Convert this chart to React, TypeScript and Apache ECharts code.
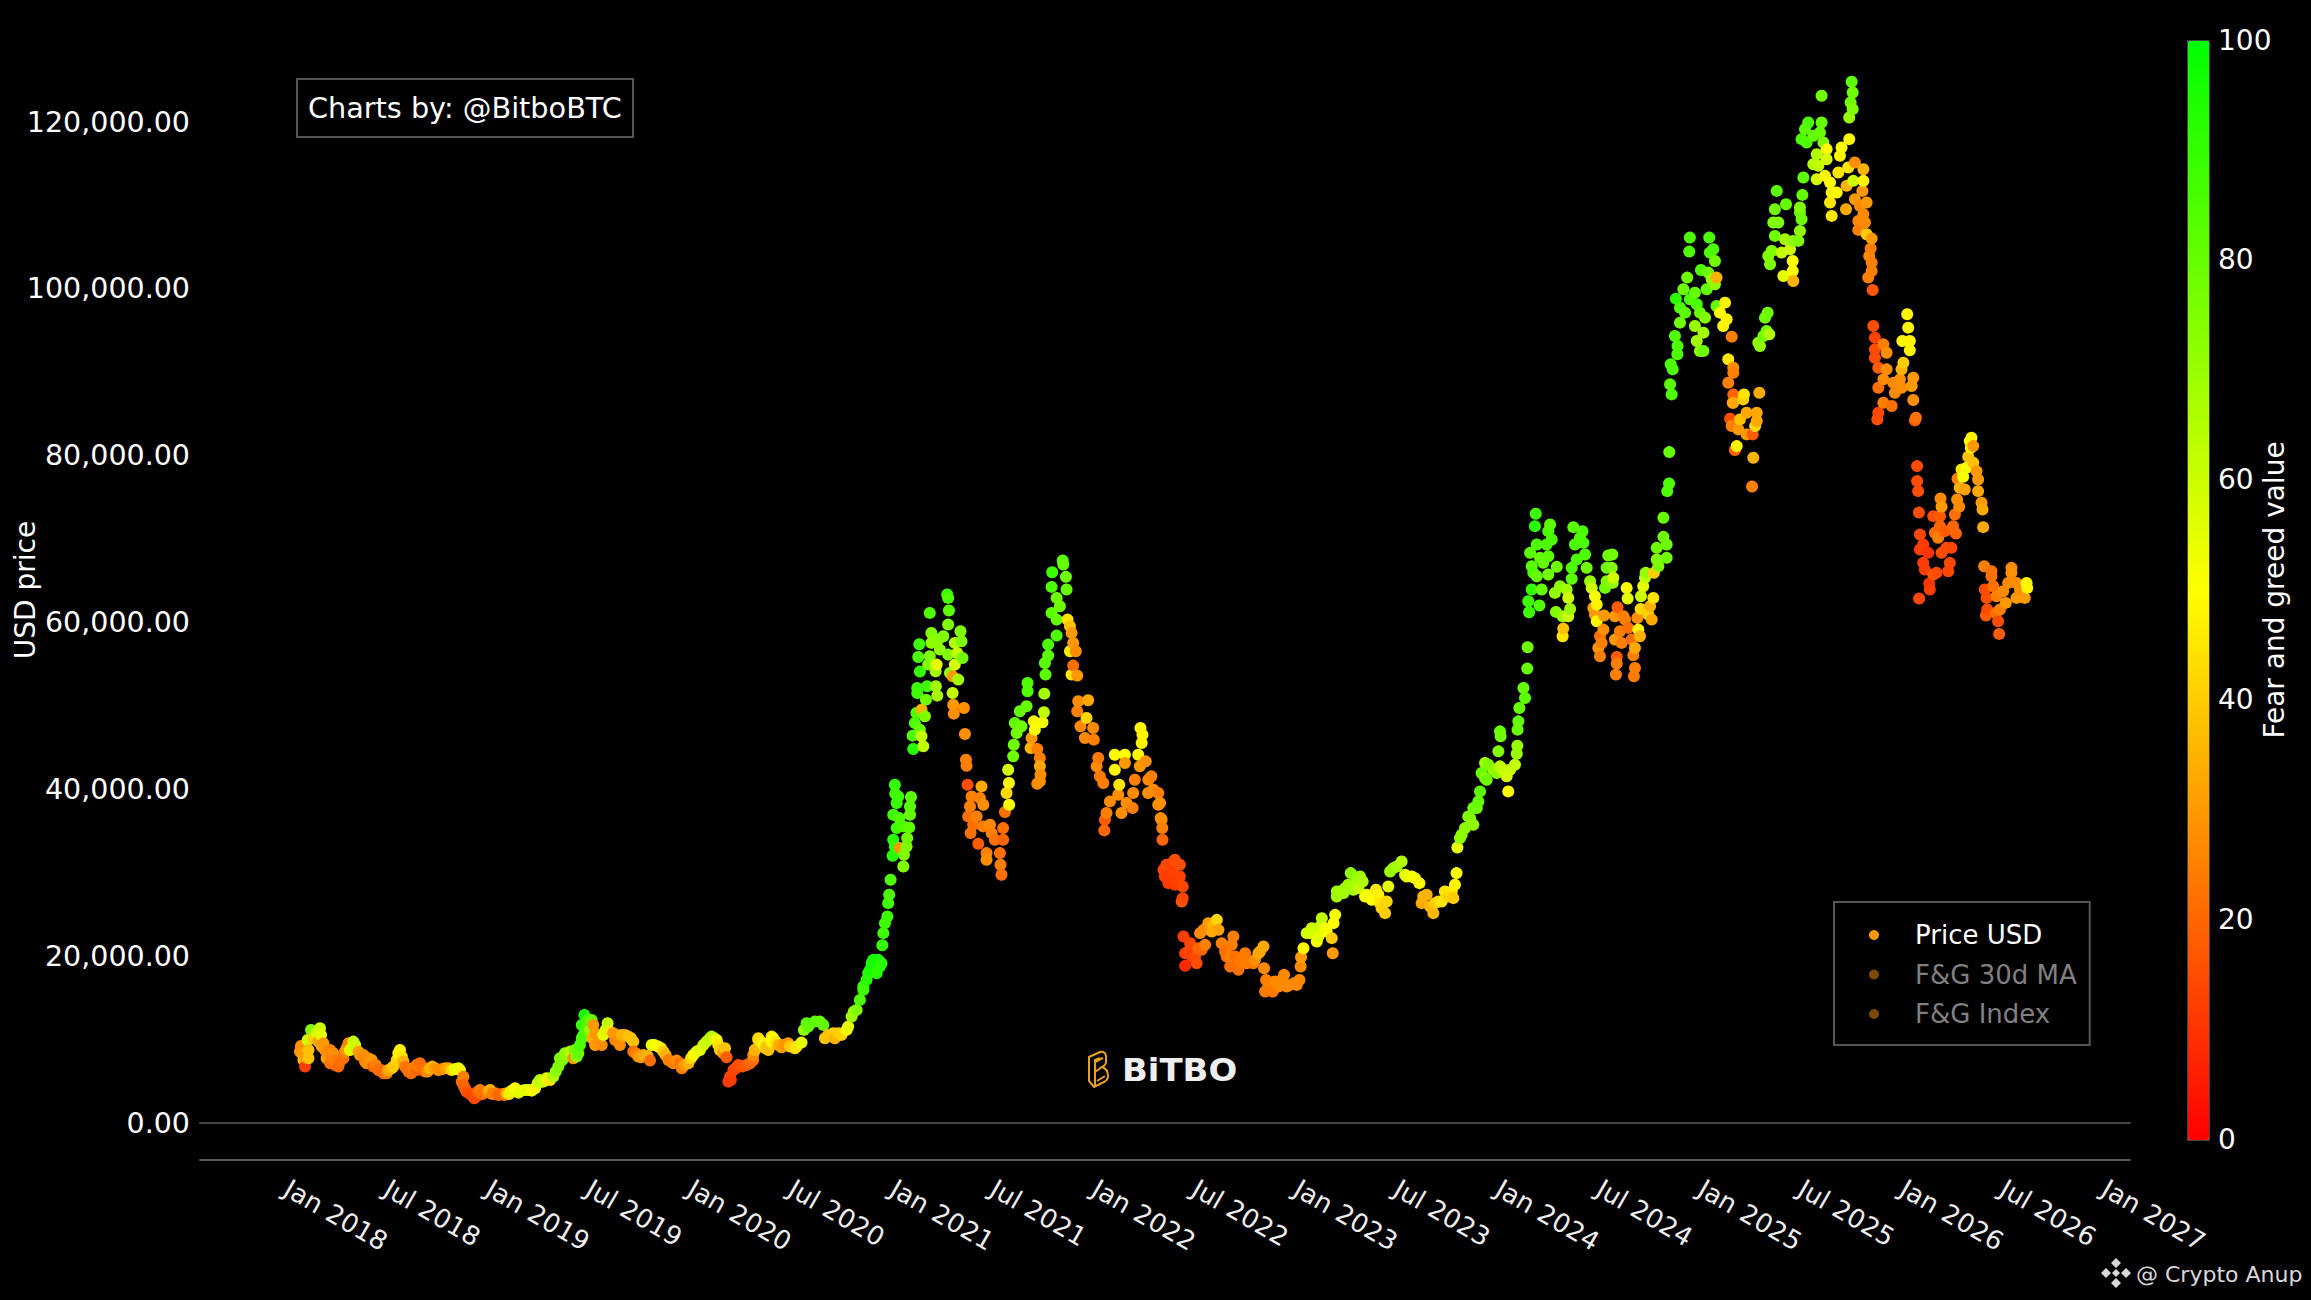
import React, { useEffect, useRef } from "react";
import * as echarts from "echarts";

// [decimal year, USD price, fear & greed value]
type P = [number, number, number];

const points2018: P[] = [
  [2018.094,9240,28],[2018.098,8360,30],[2018.106,7560,35],[2018.114,6760,12],[2018.117,7880,30],[2018.131,8760,38],[2018.127,9960,60],[2018.144,11160,75],[2018.164,10160,40],[2018.188,11360,60],[2018.193,10560,55],[2018.18,9760,32],[2018.205,9560,30],[2018.213,8760,30],[2018.238,8760,26],[2018.221,7760,32],[2018.246,7760,25],[2018.263,6960,22],[2018.279,6760,20],[2018.304,7760,22],[2018.32,8960,30],[2018.329,9560,25],[2018.353,9760,62],[2018.345,8960,58],[2018.378,8560,33],[2018.403,8160,28],[2018.411,7360,25],[2018.444,7560,30],[2018.452,6760,20],[2018.477,6360,22],[2018.502,5960,20],[2018.527,6360,33],[2018.551,6760,40],[2018.576,8360,48],[2018.593,7960,45],[2018.609,6760,25],[2018.626,6160,22],[2018.65,6560,25],[2018.683,7160,22],[2018.667,6360,20],[2018.708,6160,22],[2018.733,6560,35],[2018.758,6560,30],[2018.791,6440,28],[2018.824,6560,33],[2018.857,6480,55],[2018.881,6360,48],[2018.898,5560,25],[2018.898,4560,20],[2018.914,3760,17],[2018.939,3360,15],[2018.964,3240,15],[2018.98,3960,25],
];
const band2018: P[] = [
  [2018.089,8560,30],[2018.131,7760,38],[2018.155,10160,40],[2018.172,10760,58],[2018.197,9160,32],[2018.221,8560,28],[2018.254,8360,28],[2018.238,7160,22],[2018.287,7360,22],[2018.263,7560,25],[2018.312,8560,28],[2018.337,8760,55],[2018.362,9360,60],[2018.386,8160,30],[2018.427,7760,28],[2018.419,7160,28],[2018.464,6960,25],[2018.49,6360,22],[2018.518,5960,25],[2018.543,6560,35],[2018.568,7560,42],[2018.584,8760,48],[2018.601,7360,35],[2018.617,6560,22],[2018.639,5960,22],[2018.667,6960,25],[2018.695,6760,22],[2018.721,6160,28],[2018.744,6760,35],[2018.774,6360,28],[2018.807,6560,30],[2018.84,6360,42],[2018.873,6560,55],[2018.89,4960,22],[2018.906,4160,20],[2018.926,3560,15],[2018.952,2960,14],[2018.969,3760,20],[2018.992,3480,22],
];
const points2019: P[] = [
  [2019.005,3640,22],[2019.03,3960,35],[2019.055,3560,25],[2019.088,3480,20],[2019.112,3560,35],[2019.137,3880,55],[2019.154,4160,50],[2019.187,3880,55],[2019.22,3960,55],[2019.253,4160,48],[2019.277,5160,65],[2019.294,4960,60],[2019.327,5160,45],[2019.343,5560,65],[2019.368,6760,75],[2019.376,7760,75],[2019.401,8360,72],[2019.426,8560,65],[2019.442,7760,30],[2019.459,7960,75],[2019.475,9360,85],[2019.492,10560,85],[2019.484,11760,88],[2019.497,12960,95],[2019.517,12360,85],[2019.533,12360,80],[2019.541,11760,30],[2019.55,10760,30],[2019.55,9360,30],[2019.583,9360,28],[2019.591,10560,55],[2019.612,11960,62],[2019.624,10960,45],[2019.64,10760,30],[2019.649,9960,25],[2019.673,9360,28],[2019.682,10560,35],[2019.715,10360,38],[2019.739,9760,38],[2019.739,8560,22],[2019.764,7960,28],[2019.789,8160,33],[2019.822,7480,22],[2019.83,9360,55],[2019.863,9160,50],[2019.888,8560,40],[2019.913,7560,25],[2019.937,7160,25],[2019.97,7160,22],[2019.979,6560,25],
];
const band2019: P[] = [
  [2019.018,3760,28],[2019.041,3480,25],[2019.071,3360,20],[2019.101,3360,22],[2019.124,3480,45],[2019.17,3640,55],[2019.203,3960,55],[2019.236,3880,52],[2019.266,4760,58],[2019.31,5360,55],[2019.355,6160,72],[2019.388,7560,75],[2019.414,8160,72],[2019.451,8760,78],[2019.467,8360,80],[2019.484,10160,85],[2019.508,11560,85],[2019.525,11160,70],[2019.536,10160,35],[2019.563,9760,30],[2019.602,11160,58],[2019.657,10560,30],[2019.665,9760,28],[2019.698,10560,35],[2019.728,10160,38],[2019.751,8360,25],[2019.777,7880,30],[2019.81,8040,35],[2019.843,9360,52],[2019.876,8960,48],[2019.899,8160,35],[2019.926,7360,25],[2019.954,7480,28],[2019.992,6960,30],
];
const points2020: P[] = [
  [2020.012,7160,35],[2020.036,8160,48],[2020.069,8760,55],[2020.102,9760,60],[2020.127,10360,65],[2020.152,9960,52],[2020.168,8760,40],[2020.201,7880,18],[2020.193,8960,38],[2020.21,4960,12],[2020.218,5560,14],[2020.235,6360,14],[2020.259,6960,15],[2020.3,6960,18],[2020.333,7560,22],[2020.342,8760,35],[2020.358,9960,42],[2020.383,9360,48],[2020.408,8760,38],[2020.432,10160,50],[2020.457,9360,35],[2020.49,9360,28],[2020.515,9160,40],[2020.548,9160,45],[2020.572,9640,55],[2020.584,11160,72],[2020.605,11560,80],[2020.638,12160,82],[2020.68,11760,80],[2020.688,10160,38],[2020.729,10760,40],[2020.737,10160,35],[2020.77,10560,42],[2020.803,11560,55],[2020.82,12760,68],[2020.845,13560,75],[2020.861,14760,85],[2020.878,15960,88],[2020.894,17160,92],[2020.911,18360,95],[2020.927,19560,95],[2020.944,17960,92],[2020.968,19160,92],[2020.972,21320,90],[2020.977,22760,88],[2020.985,23960,88],[2020.997,24760,88],
];
const band2020: P[] = [
  [2020.025,7760,42],[2020.053,8560,52],[2020.086,9360,58],[2020.119,10160,62],[2020.14,10160,60],[2020.16,9360,45],[2020.185,8360,30],[2020.222,5160,12],[2020.246,6560,14],[2020.279,6760,16],[2020.317,7160,20],[2020.333,8160,28],[2020.371,9760,45],[2020.394,8960,42],[2020.421,9760,48],[2020.444,9760,45],[2020.474,9360,32],[2020.506,9560,30],[2020.424,10360,45],[2020.399,9160,38],[2020.341,8760,35],[2020.358,10160,42],[2020.473,9080,32],[2020.539,8960,42],[2020.597,11960,82],[2020.663,12160,80],[2020.704,10560,38],[2020.754,10760,40],[2020.795,11160,50],[2020.831,13360,70],[2020.878,16360,88],[2020.902,17960,92],[2020.919,19160,95],[2020.96,18760,92],[2020.952,19560,95],
];
const points2021: P[] = [
  [2021.001,26360,88],[2021.006,27360,85],[2021.013,29160,85],[2021.076,30760,75],[2021.023,32040,92],[2021.026,33960,92],[2021.034,33160,90],[2021.079,32160,75],[2021.092,33160,75],[2021.095,34160,78],[2021.059,32960,30],[2021.043,35360,88],[2021.076,35560,85],[2021.105,35440,82],[2021.056,36560,85],[2021.026,36960,88],[2021.043,38360,88],[2021.036,39480,88],[2021.034,40560,90],[2021.051,39160,88],[2021.109,36960,80],[2021.109,37960,82],[2021.114,39080,82],
  [2021.125,44840,92],[2021.175,45160,62],[2021.166,46360,62],[2021.122,46440,85],[2021.133,47960,85],[2021.158,47160,80],[2021.183,48760,75],[2021.166,49560,35],[2021.141,49160,85],[2021.188,50760,78],[2021.244,51240,68],[2021.237,52360,68],[2021.194,52360,88],[2021.145,51560,88],[2021.145,52160,88],[2021.158,54120,90],[2021.15,55880,85],[2021.155,57400,88],[2021.207,61160,85],[2021.236,54160,68],[2021.241,54960,55],[2021.199,54960,75],[2021.207,55960,75],[2021.215,57560,72],[2021.215,58760,75],[2021.249,57960,72],[2021.274,58360,75],[2021.257,56760,72],[2021.298,56160,75],[2021.298,59760,75],[2021.302,61440,82],[2021.293,63360,88],[2021.298,62960,85],[2021.32,53560,30],[2021.331,54960,58],[2021.307,53960,72],[2021.348,53160,68],[2021.343,56360,62],[2021.369,55760,78],[2021.364,57760,75],[2021.359,58960,75],[2021.331,57560,65],[2021.32,51560,62],[2021.323,50160,30],[2021.326,49080,28],[2021.376,49760,28],[2021.381,46640,28],[2021.386,43560,25],[2021.389,42840,25],[2021.394,40560,15],[2021.463,40360,33],[2021.414,39160,25],[2021.455,38960,25],[2021.472,38160,28],[2021.406,37960,25],[2021.397,36760,22],[2021.439,36760,25],[2021.422,35760,22],[2021.409,34760,22],[2021.447,33480,18],[2021.471,35560,25],[2021.505,35760,27],[2021.513,34760,25],[2021.488,32360,25],[2021.488,31560,28],[2021.529,33960,22],[2021.57,35360,22],[2021.57,33960,20],[2021.554,32360,22],[2021.557,30960,25],[2021.562,29760,22],[2021.579,37280,22],[2021.6,38160,50],[2021.587,39560,42],[2021.599,40760,48],[2021.595,42360,58],[2021.62,43960,78],[2021.623,45360,78],[2021.637,46760,78],[2021.628,47960,80],[2021.661,47560,78],[2021.653,49360,80],[2021.686,49960,80],[2021.691,51760,85],[2021.691,52760,85],[2021.711,46160,30],[2021.706,44960,35],[2021.739,44840,25],[2021.722,48160,48],[2021.727,47160,50],[2021.765,48040,52],[2021.772,49240,62],[2021.752,43760,25],[2021.752,42760,33],[2021.755,41760,28],[2021.752,40960,28],[2021.739,40680,27],[2021.774,51480,68],[2021.78,53760,82],[2021.777,55160,82],[2021.793,56040,82],[2021.793,57360,85],[2021.835,58440,85],[2021.81,61160,82],[2021.835,60360,80],[2021.851,61960,78],[2021.835,62960,78],[2021.81,64280,85],[2021.813,66040,88],[2021.884,63960,80],[2021.881,65480,78],[2021.868,66960,80],[2021.865,67440,82],[2021.889,60360,45],[2021.901,59560,38],[2021.909,58760,30],[2021.917,57560,30],[2021.901,56560,45],[2021.93,56560,28],[2021.917,54840,22],[2021.909,53760,45],[2021.937,53640,30],[2021.942,50560,28],[2021.991,50680,33],[2021.937,49360,25],[2021.983,48560,42],[2021.953,47560,27],[2021.975,46160,27],
];
const points2022: P[] = [
  [2022.016,47360,27],[2022.019,45960,25],[2022.041,43760,24],[2022.033,42760,27],[2022.049,41560,24],[2022.066,40760,25],[2022.123,44160,50],[2022.173,44160,50],[2022.123,42360,48],[2022.173,43160,30],[2022.145,40560,45],[2022.14,39360,28],[2022.099,38560,27],[2022.082,37160,25],[2022.074,36360,18],[2022.071,35080,20],[2022.156,37160,28],[2022.181,38360,28],[2022.211,37760,25],[2022.214,39560,27],[2022.222,41160,25],[2022.247,42760,30],[2022.239,44160,48],[2022.256,45560,48],[2022.26,46560,48],[2022.25,47360,48],[2022.276,43360,28],[2022.304,41560,25],[2022.288,39560,28],[2022.338,39560,25],[2022.338,38160,28],[2022.35,36560,28],[2022.358,35360,25],[2022.359,33960,20],
  [2022.42,31560,15],[2022.379,30960,14],[2022.445,30960,15],[2022.371,29560,13],[2022.412,29960,13],[2022.445,29560,13],[2022.388,28760,12],[2022.421,28560,12],[2022.459,28360,14],[2022.459,26960,14],[2022.454,26560,17],[2022.463,22360,12],[2022.496,21560,14],[2022.471,20360,12],[2022.471,18840,8],[2022.504,19960,12],[2022.537,20960,20],[2022.528,19160,15],[2022.57,21360,25],[2022.562,23160,27],[2022.586,23960,30],[2022.603,22960,33],[2022.628,24360,42],[2022.636,23160,32],[2022.652,21560,25],[2022.669,20560,22],[2022.694,18760,22],[2022.71,22360,25],[2022.702,21360,25],[2022.718,19960,22],[2022.735,18360,22],[2022.768,20360,24],[2022.776,19160,25],[2022.809,19160,24],[2022.834,20360,33],[2022.859,21160,33],[2022.862,18560,27],[2022.872,17160,25],[2022.867,15760,24],[2022.905,15760,24],[2022.916,16960,27],[2022.961,17760,27],[2022.974,16360,27],
];
const band2022: P[] = [
  [2022.347,38360,28],[2022.355,36360,28],[2022.314,39960,28],[2022.289,41160,27],[2022.405,31160,13],[2022.413,29960,13],[2022.38,29560,12],[2022.438,29160,13],[2022.364,30360,14],[2022.487,20560,14],[2022.52,19960,15],[2022.553,20760,20],[2022.545,22760,27],[2022.611,23760,35],[2022.677,19960,22],[2022.694,19960,25],[2022.743,19360,24],[2022.793,19360,24],[2022.817,19560,28],[2022.842,20560,33],[2022.883,16360,25],[2022.933,16360,27],[2022.949,17160,27],[2022.991,16560,27],
];
const points2023: P[] = [
  [2023.01,16760,27],[2023.037,17160,27],[2023.043,18760,27],[2023.045,19880,30],[2023.057,20960,48],[2023.073,22760,58],[2023.098,23360,60],[2023.123,21760,52],[2023.148,24560,62],[2023.164,23360,52],[2023.197,22160,40],[2023.202,20360,30],[2023.206,23960,50],[2023.214,24960,52],[2023.238,27760,68],[2023.222,27160,68],[2023.263,28160,68],[2023.291,29960,72],[2023.304,27960,68],[2023.32,28960,68],[2023.35,28960,66],[2023.37,27360,52],[2023.395,26760,50],[2023.416,27960,45],[2023.436,26360,45],[2023.461,25160,40],[2023.469,26560,42],[2023.477,28360,55],[2023.486,30160,70],[2023.519,30760,68],[2023.543,31360,65],[2023.56,29760,55],[2023.593,29560,52],[2023.631,28760,48],[2023.667,27360,35],[2023.642,26360,33],[2023.7,25160,36],[2023.708,26360,40],[2023.741,26560,45],[2023.757,27760,45],[2023.799,26960,40],[2023.807,28560,48],[2023.815,29960,50],[2023.819,33040,55],[2023.832,34160,72],[2023.857,35360,72],[2023.898,35760,72],[2023.873,36760,75],[2023.898,37760,78],[2023.923,38560,80],[2023.931,39760,82],[2023.964,41160,78],[2023.939,41960,80],[2023.972,42960,75],[2023.956,43160,68],[2023.956,41360,72],[2023.997,42360,72],
];
const band2023: P[] = [
  [2023.024,16560,27],[2023.09,22760,58],[2023.139,23560,60],[2023.172,22960,52],[2023.131,22360,55],[2023.222,27760,70],[2023.255,27560,68],[2023.279,28560,68],[2023.329,28160,62],[2023.337,29560,68],[2023.362,27160,52],[2023.403,26960,50],[2023.428,27360,48],[2023.444,25760,42],[2023.502,30560,70],[2023.568,29560,55],[2023.609,29360,52],[2023.65,27160,35],[2023.684,25960,36],[2023.725,26560,42],[2023.774,27160,42],[2023.791,27760,45],[2023.84,34560,72],[2023.882,36560,75],[2023.915,37760,78],
];
const points2024: P[] = [
  [2024.014,41960,72],[2024.047,42360,62],[2024.071,39760,50],[2024.063,41560,58],[2024.03,42760,62],[2024.08,42360,60],[2024.104,42960,62],[2024.113,44280,70],[2024.116,45240,70],[2024.022,44560,75],[2024.033,46360,78],[2024.03,46960,80],[2024.117,47160,80],[2024.121,48160,80],[2024.126,49760,80],[2024.154,50960,82],[2024.146,52160,80],[2024.165,54480,80],[2024.167,57040,78],[2024.174,61240,88],[2024.225,62040,85],[2024.17,62560,88],[2024.187,63960,90],[2024.236,63960,80],[2024.195,65960,85],[2024.212,65560,80],[2024.269,65760,78],[2024.187,66760,82],[2024.244,67160,80],[2024.311,66680,78],[2024.179,68360,82],[2024.228,67760,80],[2024.212,69360,85],[2024.269,67960,82],[2024.261,69360,85],[2024.286,69960,85],[2024.269,70960,85],[2024.278,71760,82],[2024.203,71560,92],[2024.207,73040,88],[2024.302,63560,72],[2024.327,64360,72],[2024.36,63960,68],[2024.368,62960,60],[2024.307,61280,75],[2024.34,60760,70],[2024.368,60760,60],[2024.377,61640,70],[2024.343,59280,38],[2024.34,58360,45],[2024.385,65240,82],[2024.385,66560,85],[2024.41,67560,85],[2024.401,69360,85],[2024.451,68160,85],[2024.426,70160,85],[2024.443,69560,85],[2024.393,71440,82],[2024.438,70960,85],[2024.459,66560,78],[2024.476,64960,70],[2024.484,64160,60],[2024.5,63160,52],[2024.509,62160,48],[2024.492,61760,30],[2024.5,60960,30],[2024.545,60840,30],[2024.509,60160,48],[2024.542,59160,28],[2024.525,58360,22],[2024.533,57560,25],[2024.517,56960,30],[2024.525,55960,25],[2024.55,64160,78],[2024.558,64960,75],[2024.558,66560,78],[2024.583,66560,75],[2024.566,68040,78],[2024.586,68160,78],[2024.588,64760,72],[2024.591,65360,60],[2024.612,61840,18],[2024.599,60760,30],[2024.641,60760,25],[2024.657,64160,52],[2024.662,62880,55],[2024.608,55880,18],[2024.608,55080,25],[2024.604,53760,25],[2024.632,57560,25],[2024.599,57960,30],[2024.624,58960,25],[2024.665,59360,22],[2024.649,60360,25],[2024.69,56080,25],[2024.698,56960,33],[2024.682,57960,22],[2024.693,53560,24],[2024.698,54560,25],[2024.723,58360,35],[2024.715,59160,48],[2024.71,60560,28],[2024.726,61640,42],[2024.781,60360,33],[2024.764,60960,42],[2024.773,61960,35],[2024.789,62960,45],[2024.728,63160,60],[2024.739,64360,55],[2024.748,65360,62],[2024.751,65960,70],[2024.792,65960,40],[2024.814,66760,75],[2024.855,67760,78],[2024.806,67560,75],[2024.855,69360,78],[2024.806,68960,78],[2024.839,70280,78],[2024.839,72560,80],[2024.858,75760,85],[2024.867,76680,85],
  [2024.868,80440,80],[2024.88,87360,85],[2024.872,88560,82],[2024.885,90360,85],[2024.875,90960,85],[2024.908,92160,85],[2024.896,94360,85],[2024.909,93160,85],[2024.921,95960,78],[2024.921,97760,85],[2024.901,98840,92],[2024.938,99960,78],[2024.957,101360,78],[2024.995,99560,80],[2024.97,98760,85],[2024.946,97160,82],[2024.995,95560,70],[2024.967,104480,85],[2024.97,106160,85],
];
const points2025: P[] = [
  [2025.004,98160,85],[2025.02,97160,80],[2025.045,96560,75],[2025.037,94760,68],[2025.004,93760,68],[2025.02,92560,72],[2025.037,92560,78],[2025.025,102280,85],[2025.053,99960,80],[2025.078,101160,70],[2025.102,101360,35],[2025.094,100560,72],[2025.061,101960,78],[2025.094,103360,78],[2025.069,104360,85],[2025.086,104760,85],[2025.066,106160,85],[2025.102,97960,80],[2025.144,98360,48],[2025.119,97160,50],[2025.152,96360,48],[2025.135,95560,48],[2025.177,94280,25],[2025.16,91560,45],[2025.185,90560,28],[2025.185,89960,25],[2025.16,88760,25],[2025.185,87360,20],[2025.185,86360,33],[2025.238,87360,45],[2025.314,87560,33],[2025.234,86760,40],[2025.182,86360,30],[2025.169,84440,15],[2025.177,83560,25],[2025.218,84360,38],[2025.251,85160,33],[2025.301,85160,33],[2025.21,83160,30],[2025.251,82560,30],[2025.281,82560,18],[2025.301,84160,33],[2025.293,83560,42],[2025.202,81160,48],[2025.193,80680,20],[2025.284,79760,35],[2025.278,76320,25],
  [2025.317,93160,72],[2025.334,94360,78],[2025.35,94960,78],[2025.342,96560,78],[2025.355,97160,78],[2025.309,93560,72],[2025.363,94560,65],[2025.367,102960,75],[2025.375,104560,75],[2025.358,103960,75],[2025.391,106360,78],[2025.383,107960,75],[2025.408,107960,75],[2025.391,109560,78],[2025.4,111760,82],[2025.424,104360,62],[2025.433,101560,55],[2025.479,103360,50],[2025.479,102160,50],[2025.482,100960,35],[2025.466,104760,60],[2025.441,105960,68],[2025.482,105760,72],[2025.515,106960,72],[2025.523,108360,78],[2025.507,105760,75],[2025.515,109160,80],[2025.446,110160,80],[2025.532,113360,82],[2025.527,111280,80],[2025.515,109760,75],[2025.548,117560,85],[2025.523,117960,85],[2025.556,119960,85],[2025.54,119160,82],[2025.622,119960,80],[2025.614,118760,80],[2025.581,118360,80],[2025.631,117560,75],[2025.598,116160,65],[2025.647,116760,50],[2025.581,114960,65],[2025.606,114760,62],[2025.647,115560,58],[2025.598,113160,58],[2025.639,113560,48],[2025.664,112760,50],[2025.672,111560,48],[2025.664,110360,45],[2025.672,108760,45],[2025.697,111560,48],[2025.705,113960,45],[2025.713,115960,48],[2025.721,116960,50],[2025.759,117960,48],[2025.622,123160,78],[2025.771,124840,82],[2025.776,123560,78],[2025.766,122360,78],[2025.776,121560,75],[2025.759,120560,70],[2025.754,114560,45],[2025.746,112360,35],[2025.779,112960,60],[2025.743,109560,33],[2025.787,115160,28],[2025.829,114360,35],[2025.829,112960,48],[2025.787,110760,30],[2025.824,111760,30],[2025.845,110360,30],[2025.812,109960,27],[2025.829,108960,27],[2025.804,108160,27],[2025.837,107960,27],[2025.804,107080,25],[2025.845,106560,40],[2025.87,106040,30],[2025.865,104840,25],[2025.858,103960,27],[2025.87,103160,25],[2025.87,102160,25],[2025.853,101360,25],[2025.875,99880,17],
  [2025.878,95560,15],[2025.886,94160,13],[2025.886,92760,15],[2025.886,91760,15],[2025.928,93360,25],[2025.944,92360,28],[2025.903,90560,18],[2025.944,90360,28],[2025.928,89160,27],[2025.903,88160,22],[2025.977,88760,27],[2025.985,87560,27],[2025.928,86360,25],[2025.969,85960,22],[2025.903,85160,14],[2025.898,84360,15],
];
const points2026: P[] = [
  [2026.01,89160,28],[2026.018,90360,35],[2026.027,91160,40],[2026.018,88160,28],[2026.076,89360,30],[2026.068,88360,30],[2026.076,86680,28],[2026.089,84560,22],[2026.084,84240,18],[2026.022,93760,48],[2026.059,93760,48],[2026.059,92640,48],[2026.051,95360,48],[2026.046,96960,48],
  [2026.095,78760,15],[2026.095,76960,15],[2026.1,75760,15],[2026.104,73200,15],[2026.105,62880,14],[2026.155,64680,10],[2026.158,63960,12],[2026.109,70560,14],[2026.125,69360,12],[2026.109,68760,12],[2026.15,68360,10],[2026.125,67160,12],[2026.133,66360,12],[2026.175,65760,17],[2026.191,65960,15],[2026.183,70760,22],[2026.175,72760,15],[2026.208,72760,18],[2026.211,74880,27],[2026.216,73880,30],[2026.208,71560,20],[2026.199,70160,25],[2026.232,70960,18],[2026.216,68360,15],[2026.24,68960,15],[2026.265,68960,14],[2026.257,67160,14],[2026.249,66160,14],[2026.273,71560,20],[2026.287,70680,20],[2026.282,72960,22],[2026.303,73880,27],[2026.293,74760,28],[2026.331,75960,32],[2026.306,76160,35],[2026.295,77240,25],[2026.323,77480,50],[2026.315,78360,45],[2026.34,78560,52],[2026.373,79160,38],[2026.348,79880,38],[2026.361,80960,48],[2026.373,81160,30],[2026.356,81760,50],[2026.364,82160,48],[2026.389,78160,30],[2026.397,77160,30],[2026.397,75760,33],[2026.414,74360,30],[2026.419,73560,33],[2026.422,71440,33],
  [2026.427,66760,25],[2026.463,66160,22],[2026.463,65560,22],[2026.43,63960,15],[2026.472,64360,22],[2026.439,62960,15],[2026.488,63160,25],[2026.442,61560,15],[2026.436,60840,18],[2026.485,61160,22],[2026.496,60160,15],[2026.505,61560,25],[2026.534,62360,30],[2026.501,58640,18],[2026.521,63760,27],[2026.562,66560,27],[2026.562,65960,28],[2026.546,64760,27],[2026.587,64760,28],[2026.587,62960,30],[2026.604,63960,28],[2026.628,62960,30],[2026.637,64760,48],[2026.64,64160,48],
];

const yTicksMax = 129850;
const xRangeYears = [2017.594, 2027.149];
const xTickYears = [2018,2019,2020,2021,2022,2023,2024,2025,2026,2027];
const legendNames = ["Price USD", "F&G 30d MA", "F&G Index"];
const gradientStops = ["#ff0000", "#ffff00", "#00ff00"];

const FONT = "'DejaVu Sans', Verdana, sans-serif";
const DAY = 86400000;
const toTime = (y: number) => Date.UTC(2018, 0, 1) + (y - 2018) * 365.25 * DAY;
const allPoints = [...points2018, ...band2018, ...points2019, ...band2019, ...points2020, ...band2020, ...points2021, ...points2022, ...band2022, ...points2023, ...band2023, ...points2024, ...points2025, ...points2026].sort((a, b) => a[0] - b[0]);

const xTicks: number[] = [];
const xTickLabels: string[] = [];
xTickYears.forEach((y) => {
  xTicks.push(Date.UTC(y, 0, 1));
  xTickLabels.push(`Jan ${y}`);
  if (y < 2027) {
    xTicks.push(Date.UTC(y, 6, 1));
    xTickLabels.push(`Jul ${y}`);
  }
});

echarts.graphic.registerShape(
  "bitboMark",
  echarts.graphic.extendPath(
    "M19 17 L30 12 Q35 11 36 16 L36 22 Q36 25 32 27 Q38 29 38 36 Q38 40 34 42 L24 47 L19 41 Z M25 46 L25 20 L30 18 M25 22 L33 18 M25 32 L32 27 M27 41 L35 36",
    {}
  )
);

const diamond = (cx: number, cy: number, r: number) => ({
  type: "polygon",
  shape: { points: [[cx, cy - r], [cx + r, cy], [cx, cy + r], [cx - r, cy]] },
  style: { fill: "#d8d8d8" },
});

export default function App() {
  const ref = useRef<HTMLDivElement>(null);
  useEffect(() => {
    document.body.style.margin = "0";
    document.body.style.background = "#000";
    const chart = echarts.init(ref.current!, undefined, { renderer: "svg" });
    chart.setOption({
      animation: false,
      backgroundColor: "#000000",
      textStyle: { fontFamily: FONT },
      grid: [
        { left: 200, width: 1930, top: 40, height: 1083 },
        { left: 2187, width: 21, top: 40, height: 1099 },
      ],
      xAxis: [
        {
          type: "value",
          gridIndex: 0,
          min: toTime(xRangeYears[0]),
          max: toTime(xRangeYears[1]),
          offset: 37,
          axisLine: { show: true, onZero: false, lineStyle: { color: "#555555", width: 2 } },
          axisTick: { show: false },
          splitLine: { show: false },
          axisLabel: {
            customValues: xTicks,
            rotate: -30,
            margin: 24,
            padding: [0, 0, 0, 5],
            hideOverlap: false,
            showMinLabel: true,
            showMaxLabel: true,
            color: "#eeeeee",
            fontSize: 26,
            fontFamily: FONT,
            formatter: (v: number) => xTickLabels[xTicks.indexOf(v)] ?? "",
          },
        },
        {
          type: "value",
          gridIndex: 0,
          min: toTime(xRangeYears[0]),
          max: toTime(xRangeYears[1]),
          position: "bottom",
          axisLine: { show: true, onZero: false, lineStyle: { color: "#444444", width: 2 } },
          axisTick: { show: false },
          axisLabel: { show: false },
          splitLine: { show: false },
        },
        { type: "value", gridIndex: 1, show: false, min: 0, max: 1 },
      ],
      yAxis: [
        {
          type: "value",
          gridIndex: 0,
          min: 0,
          max: yTicksMax,
          interval: 20000,
          axisLine: { show: false },
          axisTick: { show: false },
          splitLine: { show: false },
          axisLabel: {
            margin: 10,
            showMaxLabel: false,
            padding: [2, 0, 0, 0],
            color: "#ffffff",
            fontSize: 28.5,
            fontFamily: FONT,
            formatter: (v: number) =>
              v.toLocaleString("en-US", { minimumFractionDigits: 2, maximumFractionDigits: 2 }),
          },
        },
        {
          type: "value",
          gridIndex: 1,
          position: "right",
          min: 0,
          max: 100,
          interval: 20,
          axisLine: { show: false },
          axisTick: { show: false },
          splitLine: { show: false },
          axisLabel: { margin: 10, color: "#ffffff", fontSize: 28, fontFamily: FONT },
        },
      ],
      visualMap: {
        type: "continuous",
        seriesIndex: 0,
        dimension: 2,
        min: 0,
        max: 100,
        left: 2187,
        top: 40,
        itemWidth: 21,
        itemHeight: 1099,
        padding: 0,
        borderColor: "#444444",
        borderWidth: 2,
        calculable: false,
        hoverLink: false,
        showLabel: false,
        text: null,
        inRange: { color: gradientStops },
      },
      legend: {
        show: true,
        orient: "vertical",
        left: 1834,
        top: 902,
        padding: [20, 13, 18, 35],
        itemWidth: 72,
        itemHeight: 10,
        itemGap: 13.5,
        icon: "circle",
        selectedMode: false,
        borderColor: "#555555",
        borderWidth: 2,
        textStyle: { fontSize: 26, fontFamily: FONT },
        data: [
          { name: legendNames[0], itemStyle: { color: "#ff9900", opacity: 1 }, textStyle: { color: "#ffffff" } },
          { name: legendNames[1], itemStyle: { color: "#7a4a00", opacity: 1 }, textStyle: { color: "#808080" } },
          { name: legendNames[2], itemStyle: { color: "#7a4a00", opacity: 1 }, textStyle: { color: "#808080" } },
        ],
      },
      series: [
        {
          name: legendNames[0],
          type: "scatter",
          xAxisIndex: 0,
          yAxisIndex: 0,
          symbol: "circle",
          symbolSize: 12,
          silent: true,
          progressive: 0,
          itemStyle: { opacity: 1 },
          data: allPoints.map((p) => [toTime(p[0]), p[1], p[2]]),
        },
        { name: legendNames[1], type: "scatter", xAxisIndex: 0, yAxisIndex: 0, data: [] },
        { name: legendNames[2], type: "scatter", xAxisIndex: 0, yAxisIndex: 0, data: [] },
      ],
      graphic: [
        {
          type: "rect",
          shape: { x: 297, y: 79, width: 336, height: 58 },
          style: { fill: "none", stroke: "#555555", lineWidth: 2 },
        },
        {
          type: "text",
          x: 308,
          y: 108,
          style: { text: "Charts by: @BitboBTC", fill: "#ffffff", font: `28.7px ${FONT}`, textVerticalAlign: "middle" },
        },
        {
          type: "text",
          x: 25,
          y: 590,
          rotation: Math.PI / 2,
          style: { text: "USD price", fill: "#ffffff", font: `28px ${FONT}`, textAlign: "center", textVerticalAlign: "middle" },
        },
        {
          type: "text",
          x: 2274,
          y: 590,
          rotation: Math.PI / 2,
          style: { text: "Fear and greed value", fill: "#ffffff", font: `28px ${FONT}`, textAlign: "center", textVerticalAlign: "middle" },
        },
        {
          type: "bitboMark",
          x: 1070,
          y: 1040,
          style: { fill: "none", stroke: "#e8a020", lineWidth: 2 },
        },
        {
          type: "text",
          x: 1122,
          y: 1070,
          scaleX: 1.06,
          style: { text: "BiTBO", fill: "#eeeeee", font: `bold 32px ${FONT}`, textVerticalAlign: "middle" },
        },
        {
          type: "text",
          x: 2136,
          y: 1274,
          style: { text: "@ Crypto Anup", fill: "#d8d8d8", font: `22px ${FONT}`, textVerticalAlign: "middle" },
        },
        diamond(2116, 1263, 5),
        diamond(2106, 1273, 5),
        diamond(2126, 1273, 5),
        diamond(2116, 1283, 5),
        diamond(2116, 1273, 4),
      ],
    });
    return () => chart.dispose();
  }, []);
  return <div ref={ref} style={{ width: 2311, height: 1300, background: "#000" }} />;
}
